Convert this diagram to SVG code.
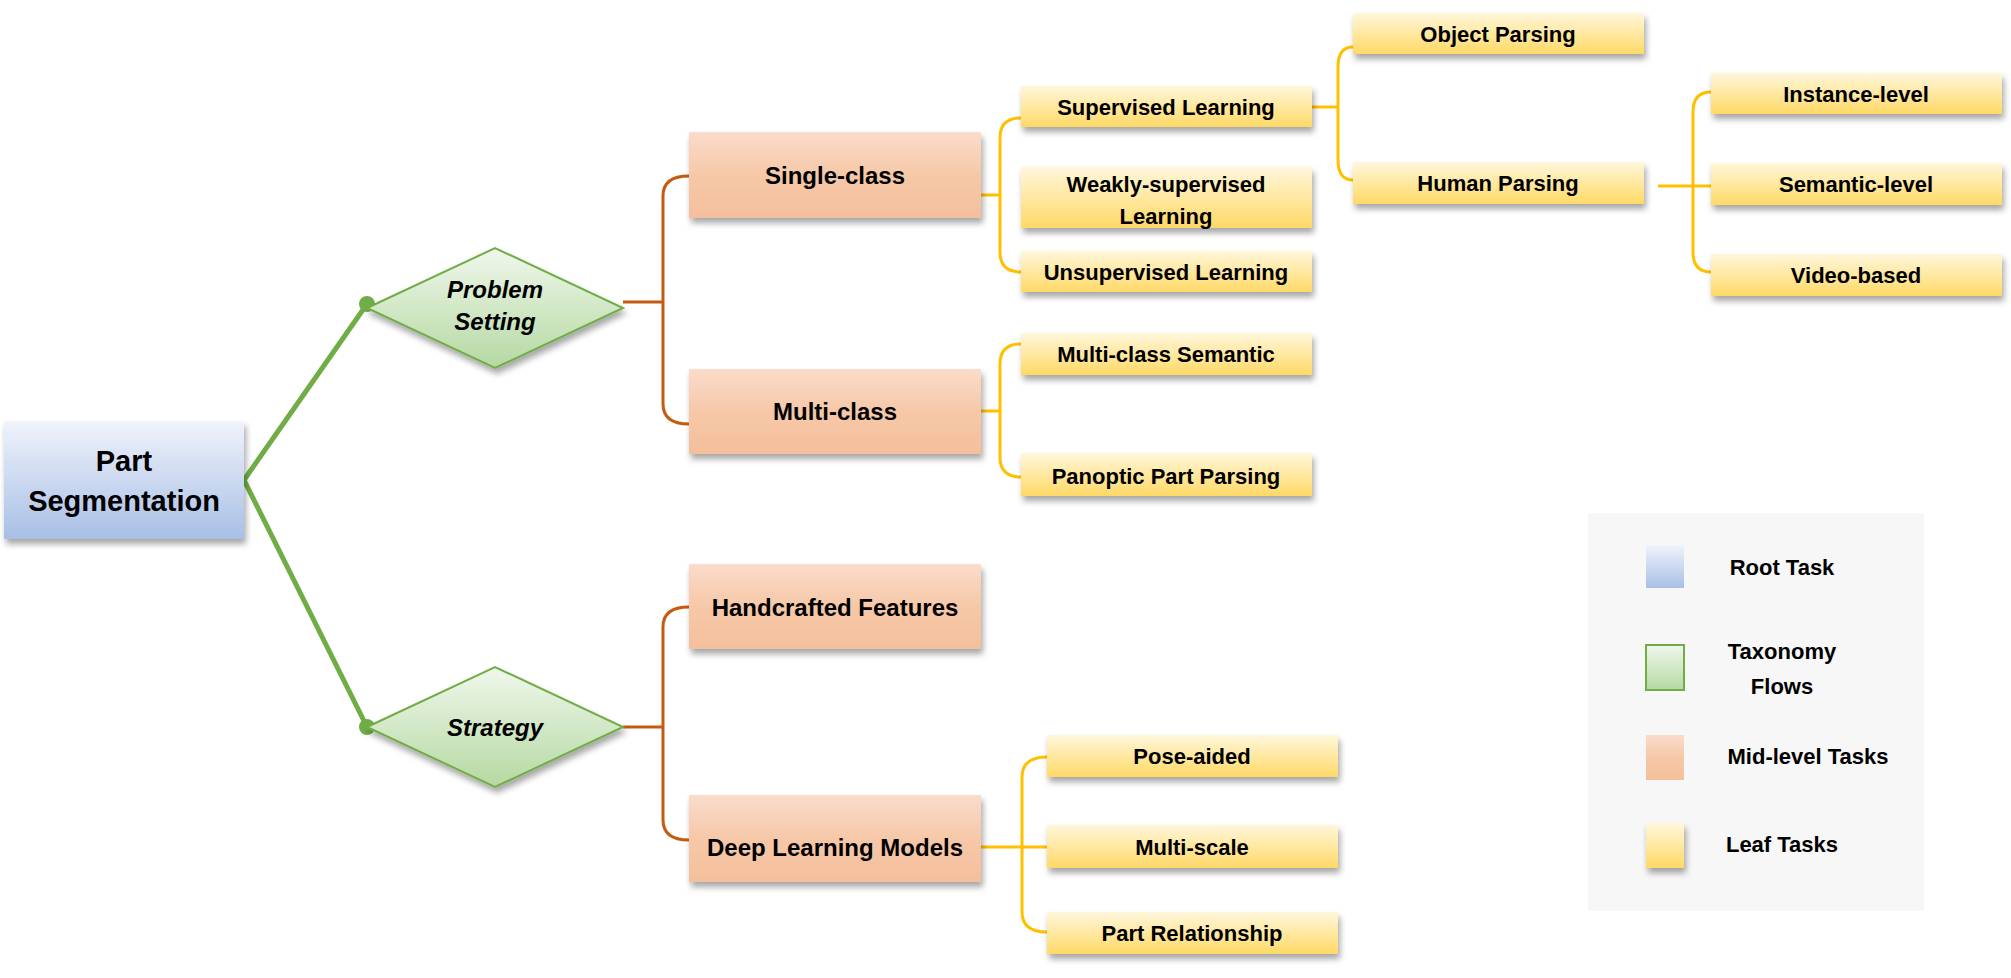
<svg xmlns="http://www.w3.org/2000/svg" width="2011" height="978" viewBox="0 0 2011 978">
<defs>
<linearGradient id="gb" x1="0" y1="0" x2="0" y2="1"><stop offset="0" stop-color="#f0f3fb"/><stop offset="1" stop-color="#a8bfe6"/></linearGradient>
<linearGradient id="gg" x1="0" y1="0" x2="0" y2="1"><stop offset="0" stop-color="#f0f7ec"/><stop offset="1" stop-color="#b5d9a2"/></linearGradient>
<linearGradient id="go" x1="0" y1="0" x2="0" y2="1"><stop offset="0" stop-color="#fadccb"/><stop offset="0.5" stop-color="#f6c8a8"/><stop offset="1" stop-color="#f4bf9b"/></linearGradient>
<linearGradient id="gy" x1="0" y1="0" x2="0" y2="1"><stop offset="0" stop-color="#fff7dc"/><stop offset="1" stop-color="#ffd966"/></linearGradient>
<filter id="sh" x="-10%" y="-10%" width="130%" height="140%"><feDropShadow dx="2" dy="5" stdDeviation="3" flood-color="#000" flood-opacity="0.35"/></filter>
<style>
text{font-family:"Liberation Sans",Arial,sans-serif;font-weight:bold;fill:#000;text-anchor:middle;dominant-baseline:central}
.leaf{fill:url(#gy);filter:url(#sh)}
.mid{fill:url(#go);filter:url(#sh)}
.lt{font-size:22px}
.mt{font-size:24px}
.ob{fill:none;stroke:#c55a11;stroke-width:3}
.yb{fill:none;stroke:#ffc000;stroke-width:3}
.gl{fill:none;stroke:#70ad47;stroke-width:5}
</style>
</defs>
<g id="connectors">
<path class="gl" d="M244 480 L367 304 M244 480 L367 727"/>
<circle cx="367" cy="304" r="8" fill="#70ad47"/>
<circle cx="367" cy="727" r="8" fill="#70ad47"/>
<path class="ob" d="M623 302 H663 M689 176 Q663 176 663 196 V404 Q663 424 689 424"/>
<path class="ob" d="M623 727 H663 M689 607 Q663 607 663 627 V820 Q663 840 689 840"/>
<path class="yb" d="M981 195 H1000 M1021 118 Q1000 118 1000 138 V252 Q1000 272 1021 272"/>
<path class="yb" d="M981 411 H1000 M1021 344 Q1000 344 1000 364 V457 Q1000 477 1021 477"/>
<path class="yb" d="M1312 107 H1338 M1353 47 Q1338 47 1338 67 V160 Q1338 180 1353 180"/>
<path class="yb" d="M1658 186 H1711 M1711 92 Q1693 92 1693 112 V252 Q1693 272 1711 272" stroke-width="3"/>
<path class="yb" d="M981 847 H1047 M1047 757 Q1022 757 1022 777 V912 Q1022 932 1047 932"/>
</g>
<g id="root"><rect x="4" y="421" width="240" height="118" fill="url(#gb)" filter="url(#sh)"/><text x="124" y="461" font-size="29">Part</text><text x="124" y="501" font-size="29">Segmentation</text></g>
<g id="problem-setting"><polygon points="367,308 495,248 623,308 495,368" fill="url(#gg)" stroke="#70ad47" stroke-width="2" filter="url(#sh)"/><text x="495" y="289" class="mt" font-style="italic">Problem</text><text x="495" y="321" class="mt" font-style="italic">Setting</text></g>
<g id="strategy"><polygon points="367,727 495,667 623,727 495,787" fill="url(#gg)" stroke="#70ad47" stroke-width="2" filter="url(#sh)"/><text x="495" y="727" class="mt" font-style="italic">Strategy</text></g>
<g id="single-class"><rect class="mid" x="689" y="132" width="292" height="86"/><text x="835" y="175" class="mt">Single-class</text></g>
<g id="multi-class"><rect class="mid" x="689" y="369" width="292" height="85"/><text x="835" y="411" class="mt">Multi-class</text></g>
<g id="handcrafted"><rect class="mid" x="689" y="564" width="292" height="85"/><text x="835" y="607" class="mt">Handcrafted Features</text></g>
<g id="deep-learning"><rect class="mid" x="689" y="795" width="292" height="87"/><text x="835" y="847" class="mt">Deep Learning Models</text></g>
<g id="supervised"><rect class="leaf" x="1021" y="86" width="291" height="41"/><text x="1166" y="107" class="lt">Supervised Learning</text></g>
<g id="weakly"><rect class="leaf" x="1021" y="167" width="291" height="61"/><text x="1166" y="184" class="lt">Weakly-supervised</text><text x="1166" y="216" class="lt">Learning</text></g>
<g id="unsupervised"><rect class="leaf" x="1021" y="251" width="291" height="41"/><text x="1166" y="272" class="lt">Unsupervised Learning</text></g>
<g id="mc-semantic"><rect class="leaf" x="1021" y="333" width="291" height="42"/><text x="1166" y="354" class="lt">Multi-class Semantic</text></g>
<g id="panoptic"><rect class="leaf" x="1021" y="453" width="291" height="43"/><text x="1166" y="476" class="lt">Panoptic Part Parsing</text></g>
<g id="object-parsing"><rect class="leaf" x="1353" y="13" width="291" height="41"/><text x="1498" y="34" class="lt">Object Parsing</text></g>
<g id="human-parsing"><rect class="leaf" x="1353" y="162" width="291" height="42"/><text x="1498" y="183" class="lt">Human Parsing</text></g>
<g id="instance"><rect class="leaf" x="1711" y="73" width="291" height="41"/><text x="1856" y="94" class="lt">Instance-level</text></g>
<g id="semantic"><rect class="leaf" x="1711" y="163" width="291" height="42"/><text x="1856" y="184" class="lt">Semantic-level</text></g>
<g id="video"><rect class="leaf" x="1711" y="254" width="291" height="42"/><text x="1856" y="275" class="lt">Video-based</text></g>
<g id="pose"><rect class="leaf" x="1047" y="735" width="291" height="42"/><text x="1192" y="756" class="lt">Pose-aided</text></g>
<g id="multi-scale"><rect class="leaf" x="1047" y="825" width="291" height="43"/><text x="1192" y="847" class="lt">Multi-scale</text></g>
<g id="part-rel"><rect class="leaf" x="1047" y="912" width="291" height="42"/><text x="1192" y="933" class="lt">Part Relationship</text></g>
<g id="legend">
<rect x="1588" y="513" width="336" height="398" fill="#f7f7f7"/>
<rect x="1646" y="545" width="38" height="43" fill="url(#gb)"/><text x="1782" y="567" class="lt">Root Task</text>
<rect x="1646" y="645" width="38" height="45" fill="url(#gg)" stroke="#70ad47" stroke-width="2"/><text x="1782" y="651" class="lt">Taxonomy</text><text x="1782" y="686" class="lt">Flows</text>
<rect x="1646" y="735" width="38" height="45" fill="url(#go)"/><text x="1808" y="756" class="lt">Mid-level Tasks</text>
<rect x="1646" y="823" width="38" height="45" class="leaf"/><text x="1782" y="844" class="lt">Leaf Tasks</text>
</g>
</svg>
